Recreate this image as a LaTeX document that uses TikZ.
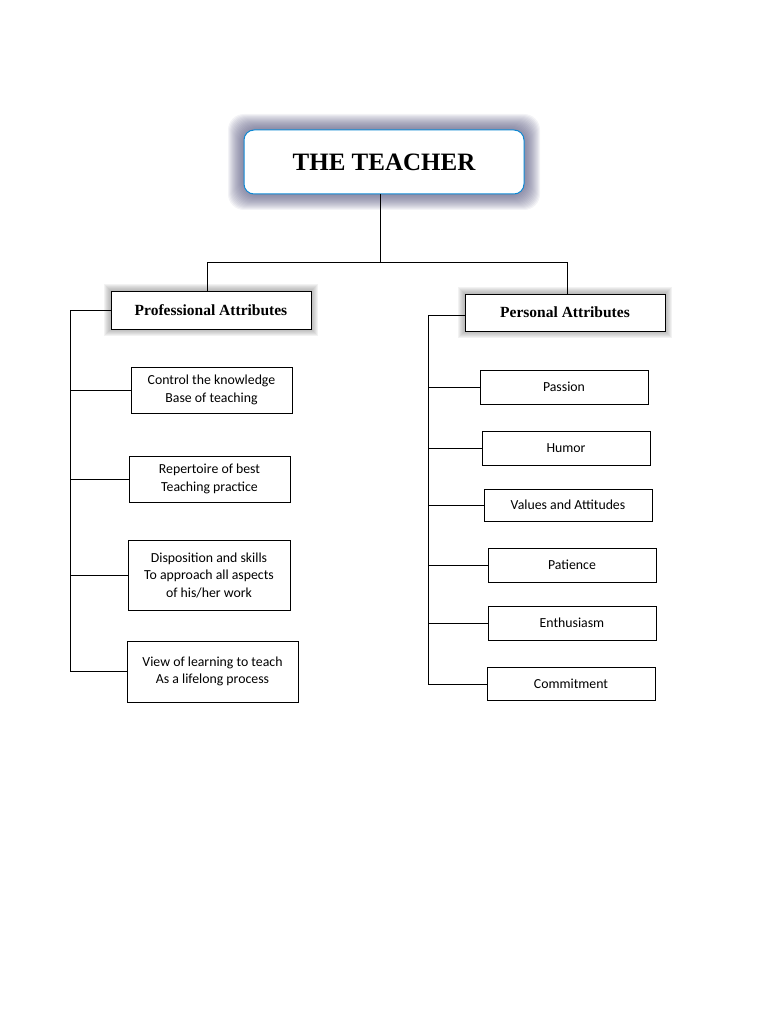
\documentclass[tikz,border=0pt]{standalone}
\usepackage{fontspec}
\setmainfont{Carlito}
\newfontfamily\serifb{Liberation Serif}
\begin{document}
\begin{tikzpicture}[x=1pt,y=-1pt,
  leaf/.style={draw,line width=0.8pt,fill=white,align=center,font=\fontsize{13.8}{17.5}\selectfont,inner sep=0pt},
  attr/.style={draw,line width=1pt,fill=white,font=\serifb\bfseries\fontsize{15.5}{18}\selectfont,inner sep=0pt},
  conn/.style={line width=0.7pt}]
\useasboundingbox (0,0) rectangle (768,1024);
% glow title
\foreach \w in {16,15,...,1}{
  \fill[black!50!blue!30!gray,opacity=0.07,rounded corners=16pt] (244-\w,130-\w) rectangle (524+\w,194+\w);}
\node[draw=cyan!70!blue,line width=1pt,fill=white,rounded corners=10pt,minimum width=280pt,minimum height=64pt,inner sep=0pt,
  font=\serifb\bfseries\fontsize{25}{30}\selectfont] (t) at (384,162) {THE TEACHER};
% shadows for attribute boxes
\foreach \w in {7,6,...,1}{
  \fill[gray,opacity=0.1] (111-\w,291-\w) rectangle (311+\w,329+\w);
  \fill[gray,opacity=0.1] (465-\w,294-\w) rectangle (665+\w,331+\w);}
\node[attr,minimum width=200pt,minimum height=38pt] (pa) at (211,310) {Professional Attributes};
\node[attr,minimum width=200pt,minimum height=37pt] (pe) at (565,312.5) {Personal Attributes};
\coordinate (j) at (380,262);
\draw[conn] (t.south -| j) -- (j);
\draw[conn] (207,262) coordinate (jl) -- (567,262) coordinate (jr);
\draw[conn] (jl) -- (jl |- pa.north);
\draw[conn] (jr) -- (jr |- pe.north);
% left leaves
\node[leaf,minimum width=161pt,minimum height=46pt] (l1) at (211.5,390) {Control the knowledge\\Base of teaching};
\node[leaf,minimum width=161pt,minimum height=46pt] (l2) at (209.5,479) {Repertoire of best\\Teaching practice};
\node[leaf,minimum width=162pt,minimum height=70pt] (l3) at (209,575) {Disposition and skills\\To approach all aspects\\of his/her work};
\node[leaf,minimum width=171pt,minimum height=61pt] (l4) at (212.5,671.5) {View of learning to teach\\As a lifelong process};
\coordinate (ls) at (70,310);
\draw[conn] (pa.west) -- (ls) -- (ls |- l4.west) -- (l4.west);
\foreach \n in {l1,l2,l3} \draw[conn] (ls |- \n.west) -- (\n.west);
% right leaves
\node[leaf,minimum width=168pt,minimum height=34pt] (r1) at (564,387) {Passion};
\node[leaf,minimum width=168pt,minimum height=34pt] (r2) at (566,448) {Humor};
\node[leaf,minimum width=168pt,minimum height=32pt] (r3) at (568,505) {Values and Attitudes};
\node[leaf,minimum width=168pt,minimum height=34pt] (r4) at (572,565) {Patience};
\node[leaf,minimum width=168pt,minimum height=34pt] (r5) at (572,623) {Enthusiasm};
\node[leaf,minimum width=168pt,minimum height=33pt] (r6) at (571,684) {Commitment};
\coordinate (rs) at (428,315);
\draw[conn] (pe.west |- rs) -- (rs) -- (rs |- r6.west) -- (r6.west);
\foreach \n in {r1,r2,r3,r4,r5} \draw[conn] (rs |- \n.west) -- (\n.west);
\end{tikzpicture}
\end{document}
